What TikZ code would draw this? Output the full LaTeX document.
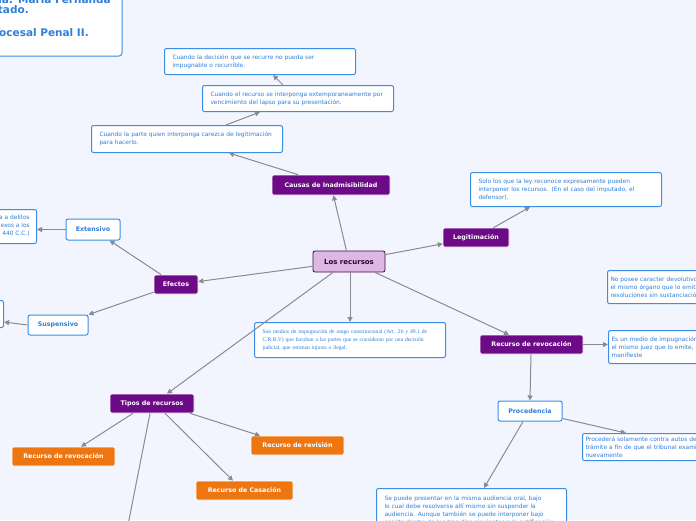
\documentclass[tikz,border=0pt]{standalone}
\usepackage{fontspec}
\setmainfont{DejaVu Sans}
\newfontfamily\serifo{Liberation Serif}
\usetikzlibrary{arrows.meta}
\definecolor{bg}{HTML}{F2F5FD}
\definecolor{bl}{HTML}{3A8EE6}
\definecolor{bt}{HTML}{2F7FD9}
\definecolor{pu}{HTML}{6C0A87}
\definecolor{or}{HTML}{EE7611}
\definecolor{lp}{HTML}{DDB8E3}
\definecolor{ln}{HTML}{8A8A94}
\tikzset{
 x=1pt,y=-1pt,
 tb/.style={draw=bl,line width=1pt,fill=white,rounded corners=2pt,anchor=north west,inner sep=0pt,align=left,font=\fontsize{5.9}{8.2}\selectfont,text=bt,execute at begin node={\hyphenpenalty=10000\exhyphenpenalty=10000}},
 pb/.style={draw=white,line width=0.6pt,fill=pu,rounded corners=2pt,text=white,font=\bfseries\fontsize{6.3}{7}\selectfont,inner sep=0pt},
 ob/.style={draw=white,line width=0.6pt,fill=or,rounded corners=2pt,text=white,font=\bfseries\fontsize{6.3}{7}\selectfont,inner sep=0pt},
 wb/.style={draw=bl,line width=1pt,fill=white,rounded corners=2pt,text=bt,font=\bfseries\fontsize{6.3}{7}\selectfont,inner sep=0pt},
 ar/.style={draw=ln,line width=1pt,-{Triangle[length=5pt,width=5pt]}},
 pl/.style={draw=ln,line width=1pt},
 tt/.style={anchor=east,text=bt,font=\bfseries\fontsize{10.5}{11}\selectfont,inner sep=0},
}
\begin{document}
\begin{tikzpicture}
\useasboundingbox (0,0) rectangle (696,520);
\clip (0,0) rectangle (696,520);
\fill[bg] (0,0) rectangle (696,520);
% title
\draw[bl,line width=1pt,fill=white,rounded corners=3pt] (-10,-10) rectangle (122,56);
\node[tt] (t1) at (111,-1) {Alumna: María Fernanda};
\node[tt] (t2) at (29,10) {Hurtado.};
\node[tt] (t3) at (89,33) {Derecho Procesal Penal II.};
\newcommand{\tbox}[6]{\node[tb,minimum width=#4pt,minimum height=#5pt,text width=#4pt-16pt] (#1) at (#2,#3) {#6};}
\tbox{c1}{164}{48}{191}{26}{Cuando la decisión que se recurre no pueda ser impugnable o recurrible.}
\tbox{c2}{202}{85}{191}{26}{Cuando el recurso se interponga extemporaneamente por vencimiento del lapso para su presentación.}
\tbox{c3}{91}{125}{191}{27}{Cuando la parte quien interponga carezca de legitimación para hacerlo.}
\tbox{lt}{470}{172}{191}{34}{Solo los que la ley reconoce expresamente pueden interponer los recursos. (En el caso del imputado, el defensor).}
\node[tb,minimum width=191pt,minimum height=35pt,text width=175pt,font=\serifo\fontsize{5.6}{8.2}\selectfont] (sm) at (254,322) {Son medios de impugnación de rango constitucional (Art. 26 y 49.1 de C.R.B.V) que facultan a las partes que se consideran por una decisión judicial, que estiman injusta o ilegal.};
\node[tb,minimum width=56pt,minimum height=34pt] (ext) at (-20,209) {};
\node[anchor=east,text=bt,font=\fontsize{5.9}{8}\selectfont,align=right,inner sep=0] (extt) at (30,226) {Se aplica a delitos\\ conexos a los\\ (Art. 440 C.C.)};
\node[tb,minimum width=23pt,minimum height=27pt] (sus) at (-20,300) {};
\node[tb,minimum width=110pt,minimum height=33pt,text width=104pt] (np) at (607,270) {No posee caracter devolutivo pues el mismo órgano que lo emite resoluciones sin sustanciación};
\node[tb,minimum width=110pt,minimum height=33pt,text width=104pt] (em) at (608,330) {Es un medio de impugnación ante el mismo juez que lo emite, si lo manifieste};
\node[tb,minimum width=140pt,minimum height=27pt,text width=134pt] (pr) at (582,433) {Procederá solamente contra autos de mero trámite a fin de que el tribunal examine nuevamente};
\tbox{sp}{376}{488}{190}{45}{Se puede presentar en la misma audiencia oral, bajo lo cual debe resolverse allí mismo sin suspender la audiencia. Aunque también se puede interponer bajo escrito dentro de los tres días siguientes a la notificación.}
% main nodes
\node[draw=pu!60!black,line width=0.8pt,fill=lp,rounded corners=2pt,font=\bfseries\fontsize{7}{8}\selectfont,text=pu!40!black,minimum width=72pt,minimum height=21pt,inner sep=0] (lr) at (349,261.5) {Los recursos};
\node[pb,minimum width=118pt,minimum height=20pt] (ca) at (331,185) {Causas de Inadmisibilidad};
\node[pb,minimum width=66pt,minimum height=19pt] (le) at (476,237.5) {Legitimación};
\node[pb,minimum width=44pt,minimum height=19pt] (ef) at (176,284.5) {Efectos};
\node[wb,minimum width=54pt,minimum height=21pt] (ex) at (93,229.5) {Extensivo};
\node[wb,minimum width=60pt,minimum height=20pt] (su) at (58,325) {Suspensivo};
\node[pb,minimum width=103pt,minimum height=19pt] (rv) at (531.5,344.5) {Recurso de revocación};
\node[wb,minimum width=64pt,minimum height=20pt] (pc) at (530,411) {Procedencia};
\node[pb,minimum width=84pt,minimum height=19pt] (tr) at (152,403.5) {Tipos de recursos};
\node[ob,minimum width=103pt,minimum height=19pt] (o1) at (63.5,456.5) {Recurso de revocación};
\node[ob,minimum width=93pt,minimum height=19pt] (o2) at (297.5,445.5) {Recurso de revisión};
\node[ob,minimum width=97pt,minimum height=19pt] (o3) at (244.5,490.5) {Recurso de Casación};
\coordinate (down) at (128,525);
% edges
\draw[ar] (lr) -- (ca);
\draw[ar] (ca) -- (c3.south -| 229,0);
\draw[ar] (c3.north -| 226,0) -- (c2.south -| 260,0);
\draw[ar] (c2.north -| 283,0) -- (c1.south -| 273,0);
\draw[ar] (lr) -- (le);
\draw[ar] (le) -- (lt.south -| 530,0);
\draw[ar] (lr) -- (ef);
\draw[ar] (ef) -- (ex);
\draw[ar] (ex) -- (ext.east |- ex);
\draw[ar] (ef) -- (su);
\draw[ar] (su.west) -- (sus.east |- 0,322);
\draw[ar] (lr.south -| 350,0) -- (sm.north -| 350,0);
\draw[ar] (lr.south -| 375,0) -- (rv.north -| 509,0);
\draw[ar] (rv) -- (em.west |- rv);
\draw[ar] (rv.south -| 531,0) -- (pc.north -| 530,0);
\draw[ar] (pc) -- (pr.north -| 626,0);
\draw[ar] (pc.south -| 523,0) -- (sp.north -| 484,0);
\draw[ar] (lr.south -| 333,0) -- (tr.north -| 167,0);
\draw[ar] (tr.south -| 133,0) -- (o1.north -| 81,0);
\draw[ar] (tr.south -| 190,0) -- (o2.north -| 260,0);
\draw[ar] (tr.south -| 165,0) -- (o3.north -| 233,0);
\draw[pl] (tr.south -| 150,0) -- (down);
\end{tikzpicture}
\end{document}
